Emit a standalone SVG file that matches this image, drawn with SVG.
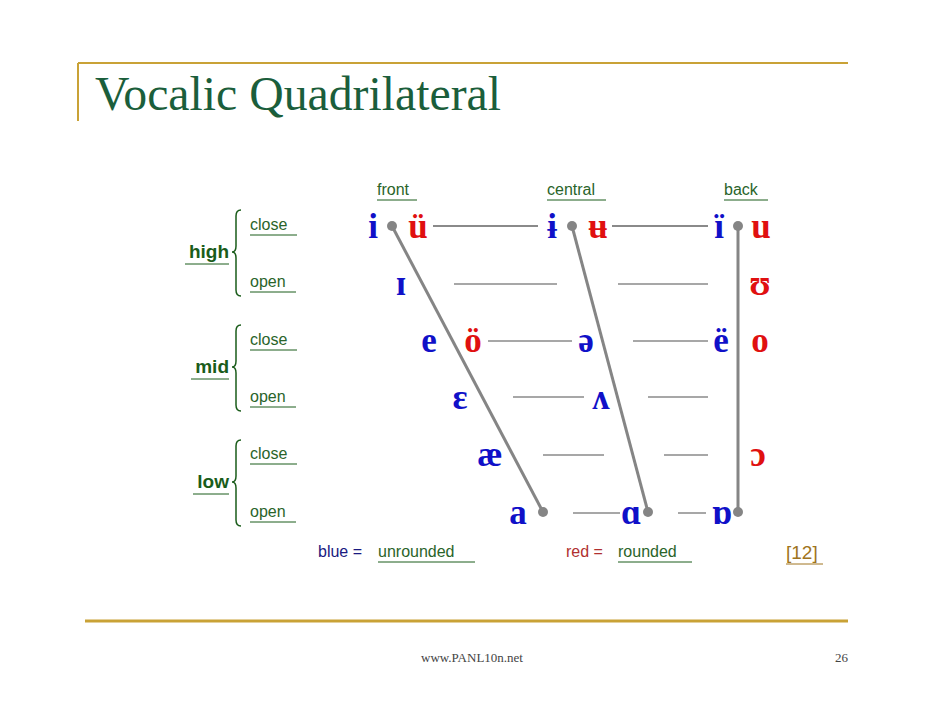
<svg xmlns="http://www.w3.org/2000/svg" width="942" height="728" viewBox="0 0 942 728">
<style>
.gold{stroke:#c9a236;fill:none}
.v{font-family:"Liberation Serif","DejaVu Serif",serif;font-weight:bold;font-size:35px;text-anchor:middle}
.b{fill:#1010c8}
.r{fill:#e01010}
.lab{font-family:"Liberation Sans",Arial,sans-serif;font-size:16px;fill:#2a642a}
.big{font-family:"Liberation Sans",Arial,sans-serif;font-size:19px;font-weight:bold;fill:#1a5c1a;text-anchor:end}
.ul{stroke:#1a5c1a;stroke-width:1}
.brace{stroke:#1a5c1a;stroke-width:1.5;fill:none}
.thick{stroke:#858585;stroke-width:3;fill:none}
.thin{stroke:#8a8a8a;stroke-width:1.5}
.dot{fill:#858585}
</style>
<rect width="942" height="728" fill="#ffffff"/>
<g id="frame">
<line class="gold" x1="78" y1="63" x2="848" y2="63" stroke-width="2"/>
<line class="gold" x1="78" y1="63" x2="78" y2="121" stroke-width="2"/>
<line class="gold" x1="85" y1="621" x2="848" y2="621" stroke-width="3"/>
<text x="95" y="110" font-family="Liberation Serif,serif" font-size="48" fill="#1b5e3b" textLength="406" lengthAdjust="spacingAndGlyphs">Vocalic Quadrilateral</text>
<text x="472" y="662" font-family="Liberation Serif,serif" font-size="13" fill="#444" text-anchor="middle">www.PANL10n.net</text>
<text x="848" y="662" font-family="Liberation Serif,serif" font-size="13" fill="#444" text-anchor="end">26</text>
</g>
<g id="headers">
<text class="lab" x="377" y="195">front</text><line class="ul" x1="377" y1="200" x2="417" y2="200"/>
<text class="lab" x="547" y="195">central</text><line class="ul" x1="547" y1="200" x2="606" y2="200"/>
<text class="lab" x="724" y="195">back</text><line class="ul" x1="724" y1="200" x2="768" y2="200"/>
</g>
<g id="high">
<text class="big" x="229" y="258">high</text><line class="ul" x1="185" y1="264" x2="229" y2="264"/>
<path class="brace" d="M241,210 Q236,210 236,216 L236,246 Q236,252 232,252 Q236,252 236,258 L236,290 Q236,296 241,296"/>
<text class="lab" x="250" y="230">close</text><line class="ul" x1="250" y1="235" x2="297" y2="235"/>
<text class="lab" x="250" y="287">open</text><line class="ul" x1="250" y1="292" x2="296" y2="292"/>
</g>
<g id="mid">
<text class="big" x="229" y="373">mid</text><line class="ul" x1="191" y1="379" x2="229" y2="379"/>
<path class="brace" d="M241,325 Q236,325 236,331 L236,361 Q236,367 232,367 Q236,367 236,373 L236,405 Q236,411 241,411"/>
<text class="lab" x="250" y="345">close</text><line class="ul" x1="250" y1="350" x2="297" y2="350"/>
<text class="lab" x="250" y="402">open</text><line class="ul" x1="250" y1="407" x2="296" y2="407" stroke-width="1.5"/>
</g>
<g id="low">
<text class="big" x="229" y="488">low</text><line class="ul" x1="193" y1="494" x2="229" y2="494"/>
<path class="brace" d="M241,440 Q236,440 236,446 L236,476 Q236,482 232,482 Q236,482 236,488 L236,520 Q236,526 241,526"/>
<text class="lab" x="250" y="459">close</text><line class="ul" x1="250" y1="464" x2="297" y2="464"/>
<text class="lab" x="250" y="517">open</text><line class="ul" x1="250" y1="522" x2="296" y2="522"/>
</g>
<g id="connectors">
<line class="thin" x1="433" y1="226" x2="538" y2="226" style="stroke-width:2"/>
<line class="thin" x1="612" y1="226" x2="708" y2="226" style="stroke-width:2"/>
<line class="thin" x1="454" y1="284" x2="557" y2="284"/>
<line class="thin" x1="618" y1="284" x2="708" y2="284"/>
<line class="thin" x1="488" y1="341" x2="572" y2="341"/>
<line class="thin" x1="633" y1="341" x2="708" y2="341"/>
<line class="thin" x1="513" y1="397" x2="584" y2="397"/>
<line class="thin" x1="648" y1="397" x2="708" y2="397"/>
<line class="thin" x1="543" y1="455" x2="604" y2="455"/>
<line class="thin" x1="664" y1="455" x2="708" y2="455"/>
<line class="thin" x1="573" y1="513" x2="620" y2="513"/>
<line class="thin" x1="678" y1="513" x2="706" y2="513"/>
<line class="thick" x1="392" y1="226" x2="543" y2="512"/>
<line class="thick" x1="572" y1="226" x2="648" y2="512"/>
<line class="thick" x1="738" y1="226" x2="738" y2="512"/>
<circle class="dot" cx="392" cy="226" r="5"/>
<circle class="dot" cx="572" cy="226" r="5"/>
<circle class="dot" cx="738" cy="226" r="5"/>
<circle class="dot" cx="543" cy="512" r="5"/>
<circle class="dot" cx="648" cy="512" r="5"/>
<circle class="dot" cx="738" cy="512" r="5"/>
</g>
<g id="vowels">
<text class="v b" x="373" y="238">i</text>
<text class="v r" x="418" y="238">ü</text>
<text class="v b" x="552" y="238">ɨ</text>
<text class="v r" x="598" y="238">ʉ</text>
<text class="v b" x="719" y="238">ï</text>
<text class="v r" x="761" y="238">u</text>
<text class="v b" x="401" y="295">ɪ</text>
<text class="v r" x="760" y="295">ʊ</text>
<text class="v b" x="429" y="352">e</text>
<text class="v r" x="473" y="352">ö</text>
<text class="v b" x="586" y="352">ə</text>
<text class="v b" x="721" y="352">ë</text>
<text class="v r" x="760" y="352">o</text>
<text class="v b" x="460" y="409">ɛ</text>
<text class="v b" x="601" y="409">ʌ</text>
<text class="v b" x="490" y="466">æ</text>
<text class="v r" x="758" y="466">ɔ</text>
<text class="v b" x="518" y="524">a</text>
<text class="v b" x="631" y="524">ɑ</text>
<text class="v b" x="722" y="524">ɒ</text>
</g>
<g id="legend">
<text x="318" y="557" font-family="Liberation Sans,Arial,sans-serif" font-size="16" fill="#1a1a80">blue =</text>
<text class="lab" x="378" y="557">unrounded</text><line class="ul" x1="378" y1="562" x2="475" y2="562"/>
<text x="566" y="557" font-family="Liberation Sans,Arial,sans-serif" font-size="16" fill="#b03030">red =</text>
<text class="lab" x="618" y="557">rounded</text><line class="ul" x1="618" y1="562" x2="692" y2="562"/>
<text x="786" y="559" font-family="Liberation Sans,Arial,sans-serif" font-size="19" fill="#a07420">[12]</text><line x1="786" y1="564" x2="823" y2="564" stroke="#a07420" stroke-width="1"/>
</g>
</svg>
